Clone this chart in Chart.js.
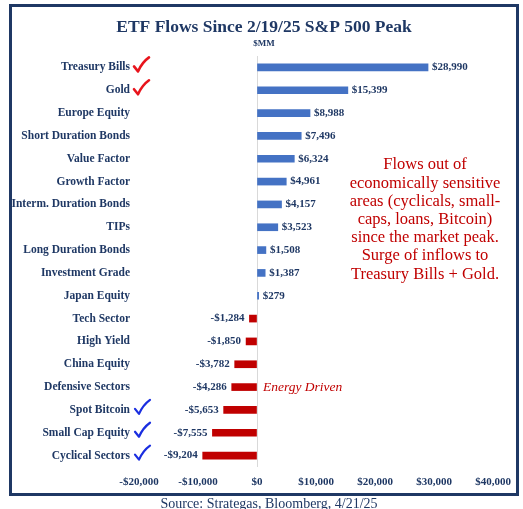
<!DOCTYPE html>
<html>
<head>
<meta charset="utf-8">
<title>ETF Flows Since 2/19/25 S&amp;P 500 Peak</title>
<script src="https://cdn.jsdelivr.net/npm/chart.js@4.4.1/dist/chart.umd.min.js"></script>
<style>
    html, body { margin: 0; padding: 0; background: #ffffff; }
    #flowsChart { display: block; }
</style>
</head>
<body>
<canvas id="flowsChart" width="523" height="509"></canvas>
<script>
// --- Data ($MM, flows since the 2/19/25 peak) ---
const categories = [
    'Treasury Bills', 'Gold', 'Europe Equity', 'Short Duration Bonds', 'Value Factor',
    'Growth Factor', 'Interm. Duration Bonds', 'TIPs', 'Long Duration Bonds',
    'Investment Grade', 'Japan Equity', 'Tech Sector', 'High Yield', 'China Equity',
    'Defensive Sectors', 'Spot Bitcoin', 'Small Cap Equity', 'Cyclical Sectors'
];
const flows = [
    28990, 15399, 8988, 7496, 6324, 4961, 4157, 3523, 1508,
    1387, 279, -1284, -1850, -3782, -4286, -5653, -7555, -9204
];
const inflowChecks = ['Treasury Bills', 'Gold'];
const outflowChecks = ['Spot Bitcoin', 'Small Cap Equity', 'Cyclical Sectors'];
const xTickValues = [-20000, -10000, 0, 10000, 20000, 30000, 40000];

const chartTitle = 'ETF Flows Since 2/19/25 S&P 500 Peak';
const chartUnits = '$MM';
const sourceNote = 'Source: Strategas, Bloomberg, 4/21/25';
const energyNote = 'Energy Driven';
const calloutLines = [
    'Flows out of',
    'economically sensitive',
    'areas (cyclicals, small-',
    'caps, loans, Bitcoin)',
    'since the market peak.',
    'Surge of inflows to',
    'Treasury Bills + Gold.'
];

const NAVY = '#1f3864';
const BLUE = '#4472c4';
const RED = '#c00000';
const SERIF = '"Liberation Serif", "DejaVu Serif", serif';

function money(v) {
    const s = '$' + Math.abs(v).toLocaleString('en-US');
    return v < 0 ? '-' + s : s;
}

function drawCheck(ctx, x, y, color, heavy) {
    // y is the row centre; the tick rises above the label
    ctx.save();
    ctx.strokeStyle = color;
    ctx.lineCap = 'round';
    ctx.lineJoin = 'round';
    ctx.beginPath();
    ctx.moveTo(x, y - 1);
    ctx.lineTo(x + 4, y + 4);
    ctx.quadraticCurveTo(x + 8, y - 5, x + 15, y - 10);
    ctx.lineWidth = heavy ? 2.6 : 2.2;
    ctx.stroke();
    ctx.restore();
}

const decorPlugin = {
    id: 'decor',
    beforeDraw(chart) {
        const { ctx, width, height } = chart;
        ctx.save();
        ctx.fillStyle = '#ffffff';
        ctx.fillRect(0, 0, width, height);
        ctx.restore();
    },
    afterDatasetsDraw(chart) {
        const { ctx } = chart;
        const meta = chart.getDatasetMeta(0);
        ctx.save();
        ctx.font = 'bold 11px ' + SERIF;
        ctx.fillStyle = NAVY;
        ctx.textBaseline = 'middle';
        meta.data.forEach((bar, i) => {
            const v = flows[i];
            if (v >= 0) {
                ctx.textAlign = 'left';
                ctx.fillText(money(v), bar.x + 4, bar.y);
            } else {
                ctx.textAlign = 'right';
                ctx.fillText(money(v), bar.x - 5, bar.y);
            }
        });
        ctx.restore();
    },
    afterDraw(chart) {
        const { ctx } = chart;
        const x = chart.scales.x;
        const y = chart.scales.y;
        ctx.save();

        // frame
        ctx.strokeStyle = NAVY;
        ctx.lineWidth = 3;
        ctx.strokeRect(10.5, 5.5, 507, 489);

        // title + units
        ctx.fillStyle = NAVY;
        ctx.textAlign = 'center';
        ctx.textBaseline = 'middle';
        ctx.font = 'bold 17.5px ' + SERIF;
        ctx.fillText(chartTitle, 264, 27);
        ctx.font = 'bold 9px ' + SERIF;
        ctx.fillText(chartUnits, 264, 44);

        // source line under the frame
        ctx.font = '14px ' + SERIF;
        ctx.fillText(sourceNote, 269, 504);

        // check marks next to labels
        inflowChecks.forEach(c => {
            drawCheck(ctx, 134, y.getPixelForValue(categories.indexOf(c)), '#e8141c', true);
        });
        outflowChecks.forEach(c => {
            drawCheck(ctx, 135, y.getPixelForValue(categories.indexOf(c)), '#1a2ee0', false);
        });

        // notes
        ctx.fillStyle = RED;
        ctx.font = 'italic 13.5px ' + SERIF;
        ctx.textAlign = 'left';
        ctx.fillText(energyNote, x.getPixelForValue(0) + 6, y.getPixelForValue(categories.indexOf('Defensive Sectors')));

        ctx.font = '16.5px ' + SERIF;
        ctx.textAlign = 'center';
        calloutLines.forEach((line, i) => {
            ctx.fillText(line, 425, 165 + i * 18.2);
        });
        ctx.restore();
    }
};

const ctx = document.getElementById('flowsChart').getContext('2d');
new Chart(ctx, {
    type: 'bar',
    data: {
        labels: categories,
        datasets: [{
            label: 'ETF flows ($MM)',
            data: flows,
            backgroundColor: flows.map(v => (v >= 0 ? BLUE : RED)),
            borderWidth: 0,
            barThickness: 7
        }]
    },
    options: {
        indexAxis: 'y',
        responsive: false,
        animation: false,
        devicePixelRatio: 1,
        layout: { padding: { top: 56, right: 30, bottom: 0, left: 0 } },
        plugins: {
            legend: { display: false },
            title: { display: false },
            tooltip: { enabled: false }
        },
        scales: {
            x: {
                min: -20000,
                max: 40000,
                afterBuildTicks(scale) {
                    scale.ticks = xTickValues.map(v => ({ value: v }));
                },
                afterFit(scale) { scale.height = 42; },
                grid: {
                    drawTicks: false,
                    color: c => (c.tick && c.tick.value === 0 ? '#d9d9d9' : 'rgba(0,0,0,0)')
                },
                border: { display: false },
                ticks: {
                    padding: 9,
                    maxRotation: 0,
                    color: NAVY,
                    font: { family: SERIF, size: 11, weight: 'bold' },
                    callback: v => money(v)
                }
            },
            y: {
                afterFit(scale) { scale.width = 139; },
                grid: { display: false, drawTicks: false },
                border: { display: false },
                ticks: {
                    padding: 9,
                    color: NAVY,
                    font: { family: SERIF, size: 11.5, weight: 'bold' }
                }
            }
        }
    },
    plugins: [decorPlugin]
});
</script>
</body>
</html>
